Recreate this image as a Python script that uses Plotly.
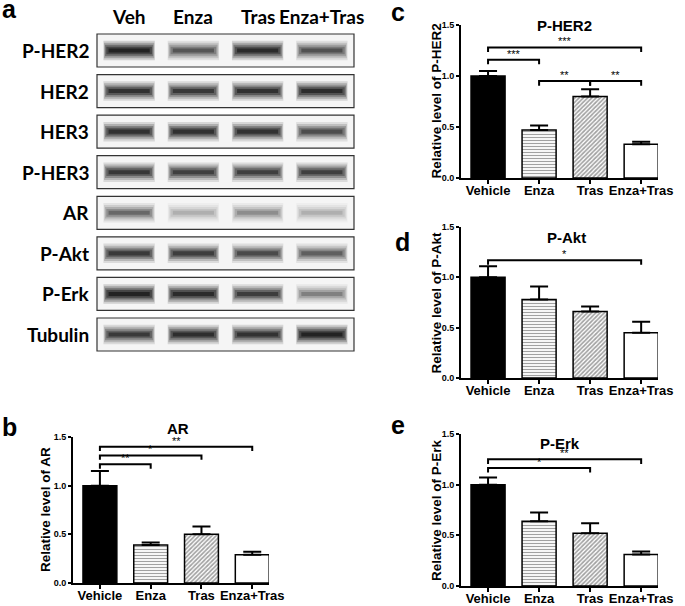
import plotly.graph_objects as go

W, H = 685, 606

# ---- panel a: western blot (band strength read by eye, 0 = none, 1 = black)
lanes = ["Veh", "Enza", "Tras", "Enza+Tras"]
proteins = ["P-HER2", "HER2", "HER3", "P-HER3", "AR", "P-Akt", "P-Erk", "Tubulin"]
band_intensity = [
    [0.98, 0.55, 0.88, 0.58],
    [0.80, 0.74, 0.80, 0.85],
    [0.82, 0.82, 0.80, 0.60],
    [0.76, 0.70, 0.70, 0.70],
    [0.45, 0.18, 0.30, 0.18],
    [0.74, 0.72, 0.62, 0.50],
    [0.98, 0.88, 0.72, 0.35],
    [0.74, 0.84, 0.80, 0.98],
]

# ---- panels b-e: bar charts
groups = ["Vehicle", "Enza", "Tras", "Enza+Tras"]

ar_mean = [1.0, 0.39, 0.50, 0.29]
ar_err = [0.15, 0.025, 0.08, 0.03]
pher2_mean = [1.0, 0.47, 0.80, 0.33]
pher2_err = [0.05, 0.045, 0.07, 0.025]
pakt_mean = [1.0, 0.78, 0.66, 0.45]
pakt_err = [0.11, 0.13, 0.05, 0.11]
perk_mean = [1.0, 0.64, 0.52, 0.31]
perk_err = [0.07, 0.085, 0.10, 0.03]

# significance brackets: (group i, group j, height, stars)
ar_sig = [(0, 1, 1.22, "**"), (0, 2, 1.31, "*"), (0, 3, 1.40, "**")]
pher2_sig = [(0, 3, 1.28, "***"), (0, 1, 1.16, "***"), (1, 2, 0.95, "**"), (2, 3, 0.95, "**")]
pakt_sig = [(0, 3, 1.17, "*")]
perk_sig = [(0, 3, 1.25, "**"), (0, 2, 1.165, "*")]

ARIAL = "Liberation Sans, Arial, sans-serif"
BLOT_FONT = "Lato, Open Sans, sans-serif"


def fx(p):
    return p / W


def fy(p):
    return 1 - p / H


fig = go.Figure()
annotations = []
shapes = []

# ---------------- blot ----------------
row_top_c, row_bot_c, box_h = 50.5, 334.5, 33.0
step = (row_bot_c - row_top_c) / (len(proteins) - 1)
half = box_h / 2 / step
pad = 0.05
lane_px = (354 - 97) / 4
fig.update_layout(
    xaxis9=dict(domain=[fx(97 - pad * lane_px), fx(354 + pad * lane_px)], automargin=False,
                range=[-0.5 - pad, 3.5 + pad], visible=False, anchor="y9"),
    yaxis9=dict(domain=[fy(row_bot_c + (half + pad) * step), fy(row_top_c - (half + pad) * step)],
                automargin=False,
                range=[len(proteins) - 1 + half + pad, -half - pad], visible=False, anchor="x9"),
)
for r, name in enumerate(proteins):
    shapes.append(dict(type="rect", xref="x9", yref="y9", x0=-0.5, x1=3.5,
                       y0=r - half, y1=r + half, layer="below",
                       line=dict(color="#333", width=1.2), fillcolor="#f5f5f5"))
    annotations.append(dict(xref="paper", yref="y9", x=fx(91), y=r, text=name,
                            showarrow=False, xanchor="right", yanchor="middle",
                            font=dict(family=BLOT_FONT, size=19, color="black", weight="bold")))
for i, lab in enumerate(lanes):
    annotations.append(dict(xref="x9", yref="paper", x=i, y=fy(17), text=lab,
                            showarrow=False, xanchor="center", yanchor="middle",
                            font=dict(family=BLOT_FONT, size=19, color="black", weight="bold")))

bx, by = [], []
for r in range(len(proteins)):
    for i in range(len(lanes)):
        bx.append(i)
        by.append(r)
flat = [band_intensity[r][i] for r in range(len(proteins)) for i in range(len(lanes))]
# soft halo, body, dark core
for width, thick, alpha in [(0.80, 0.48, 0.16), (0.78, 0.38, 0.24), (0.75, 0.28, 0.34),
                            (0.71, 0.19, 0.45), (0.64, 0.10, 0.65)]:
    fig.add_trace(go.Bar(
        x=bx, y=[thick] * len(bx), base=[v - thick / 2 for v in by], width=width,
        marker=dict(color=[f"rgba(15,15,15,{alpha * v:.3f})" for v in flat], line=dict(width=0)),
        xaxis="x9", yaxis="y9", hoverinfo="skip",
    ))

# ---------------- bar panels ----------------
panels = [
    dict(letter="b", lpos=(9, 427), title="AR", tpos=(178, 428), ylab="Relative level of AR", ylx=45,
         box=(73, 269, 437, 583), mean=ar_mean, err=ar_err, sig=ar_sig),
    dict(letter="c", lpos=(398, 12), title="P-HER2", tpos=(564, 26), ylab="Relative level of P-HER2", ylx=436,
         box=(461, 658, 25, 178), mean=pher2_mean, err=pher2_err, sig=pher2_sig),
    dict(letter="d", lpos=(402, 242), title="P-Akt", tpos=(566, 237), ylab="Relative level of P-Akt", ylx=436,
         box=(461, 658, 227, 378), mean=pakt_mean, err=pakt_err, sig=pakt_sig),
    dict(letter="e", lpos=(398, 425), title="P-Erk", tpos=(560, 443), ylab="Relative level of P-Erk", ylx=436,
         box=(461, 658, 434, 586), mean=perk_mean, err=perk_err, sig=perk_sig),
]

fills = ["black", "white", "white", "white"]
patterns = dict(shape=["", "-", "/", ""], size=[4, 3, 3, 4], solidity=[0.3, 0.4, 0.55, 0.3],
                fgcolor=["black", "#111", "#1a1a1a", "black"], fillmode="overlay")

for k, p in enumerate(panels, start=1):
    xa, ya = f"x{k}", f"y{k}"
    x0, x1, yt, yb = p["box"]
    fig.add_trace(go.Bar(
        x=groups, y=p["mean"], width=0.667, xaxis=xa, yaxis=ya,
        marker=dict(color=fills, line=dict(color="black", width=1.5), pattern=patterns),
        error_y=dict(type="data", symmetric=False, array=p["err"], arrayminus=[0] * 4,
                     color="black", thickness=2, width=9),
        hoverinfo="skip",
    ))
    for i, j, h, stars in p["sig"]:
        fig.add_trace(go.Scatter(
            x=[groups[i], groups[i], groups[j], groups[j]], y=[h - 0.045, h, h, h - 0.045],
            mode="lines", line=dict(color="black", width=2), xaxis=xa, yaxis=ya, hoverinfo="skip",
        ))
        annotations.append(dict(xref=xa, yref=ya, x=(i + j) / 2, y=h, text=stars, showarrow=False,
                                xanchor="center", yanchor="bottom", yshift=-2,
                                font=dict(family=ARIAL, size=11, color="black")))
    fig.update_layout({
        f"xaxis{k}": dict(domain=[fx(x0), fx(x1)], range=[-0.53, 3.33], anchor=ya, automargin=False,
                          showline=True, linewidth=2, linecolor="black", ticks="outside",
                          ticklen=4, tickwidth=2, tickcolor="black", showgrid=False, zeroline=False,
                          tickangle=0, ticklabelstandoff=-5,
                          tickfont=dict(family=ARIAL, size=13, color="black", weight="bold")),
        f"yaxis{k}": dict(domain=[fy(yb), fy(yt)], range=[0, 1.5], anchor=xa, automargin=False,
                          tickvals=[0, 0.5, 1.0, 1.5], tickformat=".1f",
                          showline=True, linewidth=2, linecolor="black", ticks="outside",
                          ticklen=3, tickwidth=1.5, tickcolor="black", showgrid=False, zeroline=False,
                          tickfont=dict(family=ARIAL, size=9, color="black", weight="bold")),
    })
    annotations.append(dict(xref="paper", yref="paper", x=fx(p["tpos"][0]), y=fy(p["tpos"][1]),
                            text=p["title"], showarrow=False, xanchor="center", yanchor="middle",
                            font=dict(family=ARIAL, size=15, color="black", weight="bold")))
    annotations.append(dict(xref="paper", yref="paper", x=fx(p["ylx"]), y=fy((yt + yb) / 2),
                            text=p["ylab"], textangle=-90, showarrow=False,
                            xanchor="center", yanchor="middle",
                            font=dict(family=ARIAL, size=13.5, color="black", weight="bold")))
    annotations.append(dict(xref="paper", yref="paper", x=fx(p["lpos"][0]), y=fy(p["lpos"][1]),
                            text=p["letter"], showarrow=False, xanchor="center", yanchor="middle",
                            font=dict(family=ARIAL, size=25, color="black", weight="bold")))

annotations.append(dict(xref="paper", yref="paper", x=fx(9), y=fy(9), text="a", showarrow=False,
                        xanchor="center", yanchor="middle",
                        font=dict(family=ARIAL, size=25, color="black", weight="bold")))

fig.update_layout(
    template="none",
    width=W, height=H, margin=dict(l=0, r=0, t=0, b=0, pad=0),
    paper_bgcolor="white", plot_bgcolor="white",
    showlegend=False, barmode="overlay",
    annotations=annotations, shapes=shapes,
)

# drop the browser's default 8px body margin so the figure sits at the page corner
fig.write_html("out.html", config={"displayModeBar": False},
               post_script="document.body.style.margin = '0';")
